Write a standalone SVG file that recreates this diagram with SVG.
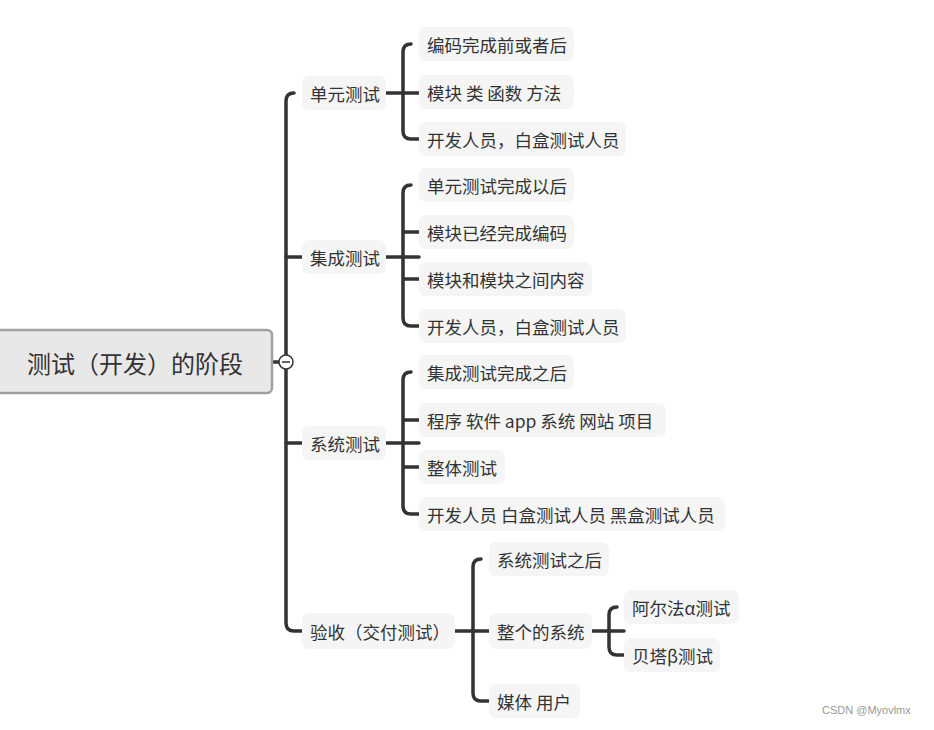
<svg xmlns="http://www.w3.org/2000/svg" width="934" height="730" viewBox="0 0 934 730">
<style>
.b{fill:#f5f5f5}
.t{font-family:"Noto Sans CJK SC","Liberation Sans",sans-serif;font-size:17.5px;fill:#333;dominant-baseline:central}
.c{fill:none;stroke:#333;stroke-width:3.5;stroke-linecap:round}
</style>
<rect width="934" height="730" fill="#fff"/>
<g id="connectors" class="c">
<path d="M272 362H286"/>
<path d="M294 93Q286 93 286 101V623Q286 631 294 631H302"/>
<path d="M286 257H302M286 443H302"/>
<path d="M386 93H419M411 44Q403 44 403 52V131Q403 139 411 139H419"/>
<path d="M386 257H419M411 185Q403 185 403 193V318Q403 326 411 326H419M403 232H419M403 279H419"/>
<path d="M386 443H419M411 372Q403 372 403 380V506Q403 514 411 514H419M403 420H419M403 467H419"/>
<path d="M455 631H489M481 559Q473 559 473 567V693Q473 701 481 701H489"/>
<path d="M592 631H624M617 607Q609 607 609 615V647Q609 655 617 655H624"/>
</g>
<g id="root">
<rect x="-10" y="330" width="282" height="63" rx="5" fill="#e8e8e8" stroke="#a0a0a0" stroke-width="2.5"/>
<text x="135" y="362" class="t" style="font-size:24px" text-anchor="middle">测试（开发）的阶段</text>
<circle cx="286" cy="362" r="7" fill="#fff" stroke="#333" stroke-width="1.5"/>
<path d="M282 362H290" stroke="#333" stroke-width="1.5"/>
</g>
<g id="n1"><rect class="b" x="302" y="76" width="84" height="34" rx="7"/><text class="t" x="310" y="93">单元测试</text></g>
<g id="n2"><rect class="b" x="302" y="240" width="84" height="34" rx="7"/><text class="t" x="310" y="257">集成测试</text></g>
<g id="n3"><rect class="b" x="302" y="426" width="84" height="34" rx="7"/><text class="t" x="310" y="443">系统测试</text></g>
<g id="n4"><rect class="b" x="302" y="613" width="153" height="36" rx="7"/><text class="t" x="310" y="631">验收（交付测试）</text></g>
<g id="n11"><rect class="b" x="419" y="27" width="155" height="34" rx="7"/><text class="t" x="427" y="44">编码完成前或者后</text></g>
<g id="n12"><rect class="b" x="419" y="75" width="155" height="34" rx="7"/><text class="t" x="427" y="92">模块 类 函数 方法</text></g>
<g id="n13"><rect class="b" x="419" y="122" width="207" height="34" rx="7"/><text class="t" x="427" y="139">开发人员，白盒测试人员</text></g>
<g id="n21"><rect class="b" x="419" y="168" width="155" height="34" rx="7"/><text class="t" x="427" y="185">单元测试完成以后</text></g>
<g id="n22"><rect class="b" x="419" y="215" width="155" height="34" rx="7"/><text class="t" x="427" y="232">模块已经完成编码</text></g>
<g id="n23"><rect class="b" x="419" y="262" width="173" height="34" rx="7"/><text class="t" x="427" y="279">模块和模块之间内容</text></g>
<g id="n24"><rect class="b" x="419" y="309" width="207" height="34" rx="7"/><text class="t" x="427" y="326">开发人员，白盒测试人员</text></g>
<g id="n31"><rect class="b" x="419" y="355" width="155" height="34" rx="7"/><text class="t" x="427" y="372">集成测试完成之后</text></g>
<g id="n32"><rect class="b" x="419" y="403" width="247" height="34" rx="7"/><text class="t" x="427" y="420">程序 软件 app 系统 网站 项目</text></g>
<g id="n33"><rect class="b" x="419" y="450" width="86" height="34" rx="7"/><text class="t" x="427" y="467">整体测试</text></g>
<g id="n34"><rect class="b" x="419" y="497" width="306" height="34" rx="7"/><text class="t" x="427" y="514">开发人员 白盒测试人员 黑盒测试人员</text></g>
<g id="n41"><rect class="b" x="489" y="542" width="120" height="34" rx="7"/><text class="t" x="497" y="559">系统测试之后</text></g>
<g id="n42"><rect class="b" x="489" y="613" width="103" height="36" rx="7"/><text class="t" x="497" y="631">整个的系统</text></g>
<g id="n43"><rect class="b" x="489" y="684" width="91" height="34" rx="7"/><text class="t" x="497" y="701">媒体 用户</text></g>
<g id="n421"><rect class="b" x="624" y="590" width="115" height="34" rx="7"/><text class="t" x="632" y="607">阿尔法α测试</text></g>
<g id="n422"><rect class="b" x="624" y="638" width="96" height="34" rx="7"/><text class="t" x="632" y="655">贝塔β测试</text></g>
<text x="822" y="714" style="font-family:'Liberation Sans',sans-serif;font-size:11px;fill:#999">CSDN @Myovlmx</text>
</svg>
